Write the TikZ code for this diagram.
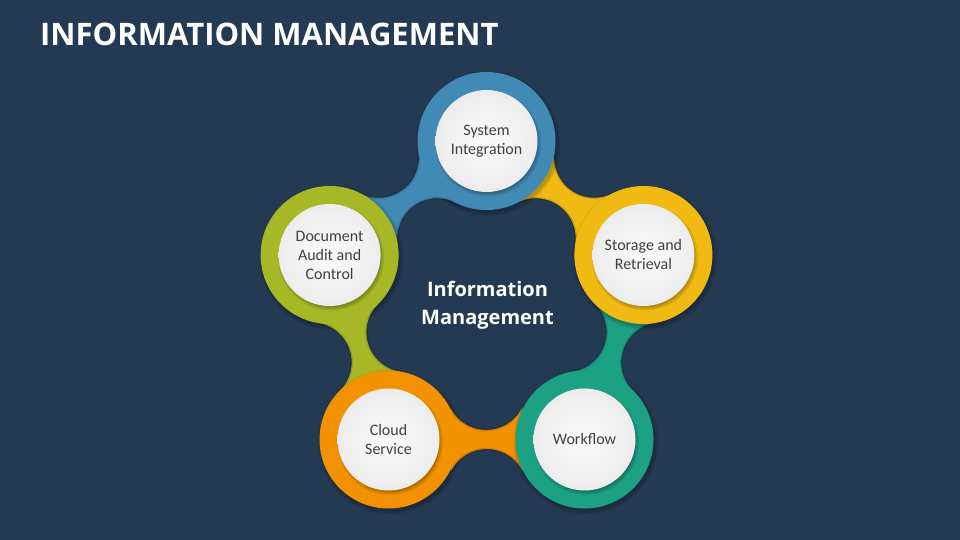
\documentclass[tikz,border=0pt]{standalone}
\usepackage{fontspec}
\newfontfamily\osfont{Open Sans}
\newfontfamily\cbfont{Carlito}
\usetikzlibrary{calc}
\definecolor{bg}{HTML}{243A53}
\definecolor{cblue}{HTML}{418AB5}
\definecolor{cyellow}{HTML}{F0BA12}
\definecolor{cteal}{HTML}{1DA185}
\definecolor{corange}{HTML}{F39200}
\definecolor{cgreen}{HTML}{A7B827}
\definecolor{labelgray}{HTML}{404040}
\definecolor{discA}{HTML}{FAFAFA}
\definecolor{discB}{HTML}{EFEFEF}
\definecolor{discC}{HTML}{D5D5D5}
\pgfdeclareradialshading{imdisc}{\pgfpoint{0bp}{0bp}}{color(0bp)=(discA); color(22bp)=(discB); color(50bp)=(discC)}
% band from ring #1 to ring #2 in colour #3 (ring radius 69, fillet radius 40)
\newcommand{\imband}[3]{%
  \coordinate (m) at ($(#1)!0.5!(#2)$);
  \coordinate (f1) at ($(m)!49.7pt!90:(#2)$);
  \coordinate (f2) at ($(m)!49.7pt!-90:(#2)$);
  \path[fill=#3] let \p1=($(#1)-(f1)$), \p2=($(#2)-(f1)$), \p3=($(#2)-(f2)$), \p4=($(#1)-(f2)$),
      \n1={atan2(\y1,\x1)}, \n2={atan2(\y2,\x2)}, \n3={atan2(\y3,\x3)}, \n4={atan2(\y4,\x4)}
    in ($(f1)!40/109!(#1)$) arc[start angle=\n1, delta angle={mod(\n2-\n1+540,360)-180}, radius=40pt]
    -- ($(f2)!40/109!(#2)$) arc[start angle=\n3, delta angle={mod(\n4-\n3+540,360)-180}, radius=40pt]
    -- cycle;
  \path[draw=black, draw opacity=0.14, line width=2.5pt] let \p1=($(#1)-(f1)$), \p2=($(#2)-(f1)$), \p3=($(#2)-(f2)$), \p4=($(#1)-(f2)$),
      \n1={atan2(\y1,\x1)}, \n2={atan2(\y2,\x2)}, \n3={atan2(\y3,\x3)}, \n4={atan2(\y4,\x4)}
    in ($(f1)!40/109!(#1)$) arc[start angle=\n1, delta angle={mod(\n2-\n1+540,360)-180}, radius=40pt]
       ($(f2)!40/109!(#2)$) arc[start angle=\n3, delta angle={mod(\n4-\n3+540,360)-180}, radius=40pt];}
\newcommand{\imshadow}[1]{%
  \foreach \k in {69.5,71,72.5}{\fill[black,opacity=0.08] ($(#1)+(1.5,-2.5)$) circle[radius=\k pt];}}
\newcommand{\imring}[3]{%
  \fill[#2] (#1) circle[radius=69pt];
  \foreach \k in {50,51.5,53}{\fill[black,opacity=0.09] ($(#1)+(1.5,-2.5)$) circle[radius=\k pt];}
  \shade[shading=imdisc] (#1) circle[radius=51pt];
  \node[lbl] (#1t) at (#1) {#3};}
\begin{document}
\begin{tikzpicture}[x=1pt,y=1pt,
  lbl/.style={font=\cbfont\fontsize{16}{19}\selectfont, text=labelgray, align=center, inner sep=0pt}]
\useasboundingbox (0,0) rectangle (960,540);
\fill[bg] (0,0) rectangle (960,540);
\coordinate (S) at (486.5,399);
\coordinate (R) at (643.4,285);
\coordinate (W) at (584.5,100.5);
\coordinate (C) at (388.5,100.5);
\coordinate (D) at (329.6,285);
\node[anchor=base west, text=white, inner sep=0pt,
  font=\osfont\bfseries\fontsize{31}{38}\selectfont] (title) at (40,494) {INFORMATION MANAGEMENT};
% bands and rings
\imband{R}{S}{cyellow}
\imshadow{S}
\imband{S}{D}{cblue}
\imring{S}{cblue}{System\\Integration}
\imshadow{D}
\imband{D}{C}{cgreen}
\imring{D}{cgreen}{Document\\Audit and\\Control}
\imshadow{C}
\imband{C}{W}{corange}
\imring{C}{corange}{Cloud\\Service}
\imshadow{W}
\imband{W}{R}{cteal}
\imring{W}{cteal}{Workflow}
\imshadow{R}
\imring{R}{cyellow}{Storage and\\Retrieval}
\node[text=white, align=center, inner sep=0pt,
  font=\osfont\bfseries\fontsize{20}{28}\selectfont] (ctr) at (487.5,235) {Information\\Management};
\end{tikzpicture}
\end{document}
